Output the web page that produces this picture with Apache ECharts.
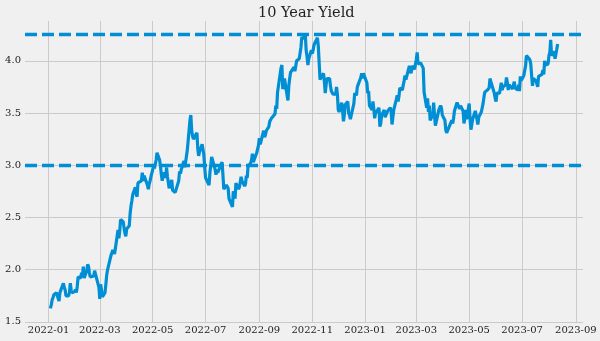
<!DOCTYPE html>
<html>
<head>
<meta charset="utf-8">
<script src="https://cdn.jsdelivr.net/npm/echarts@6/dist/echarts.min.js"></script>
<style>
  html, body { margin: 0; padding: 0; background: #f0f0f0; }
  #chart { width: 600px; height: 341px; }
</style>
</head>
<body>
<div id="chart"></div>
<script>
// Daily 10-year Treasury yield (%), trading days only.
const dates = [
  '2022-01-03','2022-01-04','2022-01-05','2022-01-06','2022-01-07','2022-01-10','2022-01-11','2022-01-12','2022-01-13','2022-01-14',
  '2022-01-18','2022-01-19','2022-01-20','2022-01-21','2022-01-24','2022-01-25','2022-01-26','2022-01-27','2022-01-28','2022-01-31',
  '2022-02-01','2022-02-02','2022-02-03','2022-02-04','2022-02-07','2022-02-08','2022-02-09','2022-02-10','2022-02-11','2022-02-14',
  '2022-02-15','2022-02-16','2022-02-17','2022-02-18','2022-02-22','2022-02-23','2022-02-24','2022-02-25','2022-02-28',
  '2022-03-01','2022-03-02','2022-03-03','2022-03-04','2022-03-07','2022-03-08','2022-03-09','2022-03-10','2022-03-11','2022-03-14',
  '2022-03-15','2022-03-16','2022-03-17','2022-03-18','2022-03-21','2022-03-22','2022-03-23','2022-03-24','2022-03-25','2022-03-28',
  '2022-03-29','2022-03-30','2022-03-31',
  '2022-04-01','2022-04-04','2022-04-05','2022-04-06','2022-04-07','2022-04-08','2022-04-11','2022-04-12','2022-04-13','2022-04-14',
  '2022-04-18','2022-04-19','2022-04-20','2022-04-21','2022-04-22','2022-04-25','2022-04-26','2022-04-27','2022-04-28','2022-04-29',
  '2022-05-02','2022-05-03','2022-05-04','2022-05-05','2022-05-06','2022-05-09','2022-05-10','2022-05-11','2022-05-12','2022-05-13',
  '2022-05-16','2022-05-17','2022-05-18','2022-05-19','2022-05-20','2022-05-23','2022-05-24','2022-05-25','2022-05-26','2022-05-27',
  '2022-05-31',
  '2022-06-01','2022-06-02','2022-06-03','2022-06-06','2022-06-07','2022-06-08','2022-06-09','2022-06-10','2022-06-13','2022-06-14',
  '2022-06-15','2022-06-16','2022-06-17','2022-06-21','2022-06-22','2022-06-23','2022-06-24','2022-06-27','2022-06-28','2022-06-29',
  '2022-06-30',
  '2022-07-01','2022-07-05','2022-07-06','2022-07-07','2022-07-08','2022-07-11','2022-07-12','2022-07-13','2022-07-14','2022-07-15',
  '2022-07-18','2022-07-19','2022-07-20','2022-07-21','2022-07-22','2022-07-25','2022-07-26','2022-07-27','2022-07-28','2022-07-29',
  '2022-08-01','2022-08-02','2022-08-03','2022-08-04','2022-08-05','2022-08-08','2022-08-09','2022-08-10','2022-08-11','2022-08-12',
  '2022-08-15','2022-08-16','2022-08-17','2022-08-18','2022-08-19','2022-08-22','2022-08-23','2022-08-24','2022-08-25','2022-08-26',
  '2022-08-29','2022-08-30','2022-08-31',
  '2022-09-01','2022-09-02','2022-09-06','2022-09-07','2022-09-08','2022-09-09','2022-09-12','2022-09-13','2022-09-14','2022-09-15',
  '2022-09-16','2022-09-19','2022-09-20','2022-09-21','2022-09-22','2022-09-23','2022-09-26','2022-09-27','2022-09-28','2022-09-29',
  '2022-09-30',
  '2022-10-03','2022-10-04','2022-10-05','2022-10-06','2022-10-07','2022-10-11','2022-10-12','2022-10-13','2022-10-14','2022-10-17',
  '2022-10-18','2022-10-19','2022-10-20','2022-10-21','2022-10-24','2022-10-25','2022-10-26','2022-10-27','2022-10-28','2022-10-31',
  '2022-11-01','2022-11-02','2022-11-03','2022-11-04','2022-11-07','2022-11-08','2022-11-09','2022-11-10','2022-11-14','2022-11-15',
  '2022-11-16','2022-11-17','2022-11-18','2022-11-21','2022-11-22','2022-11-23','2022-11-25','2022-11-28','2022-11-29','2022-11-30',
  '2022-12-01','2022-12-02','2022-12-05','2022-12-06','2022-12-07','2022-12-08','2022-12-09','2022-12-12','2022-12-13','2022-12-14',
  '2022-12-15','2022-12-16','2022-12-19','2022-12-20','2022-12-21','2022-12-22','2022-12-23','2022-12-27','2022-12-28','2022-12-29',
  '2022-12-30',
  '2023-01-03','2023-01-04','2023-01-05','2023-01-06','2023-01-09','2023-01-10','2023-01-11','2023-01-12','2023-01-13','2023-01-17',
  '2023-01-18','2023-01-19','2023-01-20','2023-01-23','2023-01-24','2023-01-25','2023-01-26','2023-01-27','2023-01-30','2023-01-31',
  '2023-02-01','2023-02-02','2023-02-03','2023-02-06','2023-02-07','2023-02-08','2023-02-09','2023-02-10','2023-02-13','2023-02-14',
  '2023-02-15','2023-02-16','2023-02-17','2023-02-21','2023-02-22','2023-02-23','2023-02-24','2023-02-27','2023-02-28',
  '2023-03-01','2023-03-02','2023-03-03','2023-03-06','2023-03-07','2023-03-08','2023-03-09','2023-03-10','2023-03-13','2023-03-14',
  '2023-03-15','2023-03-16','2023-03-17','2023-03-20','2023-03-21','2023-03-22','2023-03-23','2023-03-24','2023-03-27','2023-03-28',
  '2023-03-29','2023-03-30','2023-03-31',
  '2023-04-03','2023-04-04','2023-04-05','2023-04-06','2023-04-10','2023-04-11','2023-04-12','2023-04-13','2023-04-14','2023-04-17',
  '2023-04-18','2023-04-19','2023-04-20','2023-04-21','2023-04-24','2023-04-25','2023-04-26','2023-04-27','2023-04-28',
  '2023-05-01','2023-05-02','2023-05-03','2023-05-04','2023-05-05','2023-05-08','2023-05-09','2023-05-10','2023-05-11','2023-05-12',
  '2023-05-15','2023-05-16','2023-05-17','2023-05-18','2023-05-19','2023-05-22','2023-05-23','2023-05-24','2023-05-25','2023-05-26',
  '2023-05-30','2023-05-31',
  '2023-06-01','2023-06-02','2023-06-05','2023-06-06','2023-06-07','2023-06-08','2023-06-09','2023-06-12','2023-06-13','2023-06-14',
  '2023-06-15','2023-06-16','2023-06-20','2023-06-21','2023-06-22','2023-06-23','2023-06-26','2023-06-27','2023-06-28','2023-06-29',
  '2023-06-30',
  '2023-07-03','2023-07-05','2023-07-06','2023-07-07','2023-07-10','2023-07-11','2023-07-12','2023-07-13','2023-07-14','2023-07-17',
  '2023-07-18','2023-07-19','2023-07-20','2023-07-21','2023-07-24','2023-07-25','2023-07-26','2023-07-27','2023-07-28','2023-07-31',
  '2023-08-01','2023-08-02','2023-08-03','2023-08-04','2023-08-07','2023-08-08','2023-08-09','2023-08-10','2023-08-11'
];

const yields = [
  1.63,1.66,1.71,1.73,1.76,1.78,1.75,1.74,1.70,1.78, 1.87,1.83,1.81,1.75,1.75,1.78,1.87,1.80,1.78,1.79,
  1.81,1.78,1.84,1.93,1.92,1.97,1.94,2.03,1.92,1.99, 2.05,2.03,1.97,1.93,1.94,1.99,1.96,1.97,1.83,
  1.72,1.86,1.87,1.74,1.78,1.86,1.95,2.00,2.00,2.14, 2.16,2.19,2.20,2.15,2.32,2.38,2.30,2.37,2.48,2.46, 2.40,2.35,2.32,
  2.39,2.42,2.54,2.61,2.66,2.72,2.79,2.72,2.70,2.83, 2.85,2.93,2.85,2.90,2.90,2.81,2.77,2.82,2.85,2.89,
  2.99,2.97,2.97,3.05,3.12,3.05,2.99,2.91,2.85,2.93, 2.88,2.98,2.89,2.84,2.78,2.86,2.76,2.75,2.75,2.74, 2.85,
  2.94,2.92,2.96,3.04,2.98,3.03,3.04,3.15,3.43,3.48, 3.33,3.28,3.25,3.31,3.16,3.09,3.13,3.20,3.20,3.10, 2.98,
  2.88,2.81,2.93,3.00,3.08,2.99,2.96,2.91,2.96,2.93, 2.99,3.01,3.03,2.91,2.77,2.81,2.81,2.78,2.68,2.67,
  2.60,2.75,2.73,2.68,2.83,2.77,2.79,2.78,2.89,2.85, 2.80,2.82,2.90,2.88,2.99,3.02,3.05,3.11,3.03,3.04, 3.12,3.11,3.19,
  3.26,3.20,3.33,3.27,3.29,3.33,3.37,3.42,3.41,3.45, 3.45,3.49,3.57,3.54,3.70,3.69,3.93,3.96,3.73,3.76, 3.83,
  3.67,3.62,3.76,3.83,3.89,3.94,3.90,3.95,4.00,4.02, 4.01,4.13,4.23,4.21,4.25,4.10,4.04,3.96,4.02,4.10,
  4.07,4.10,4.15,4.17,4.22,4.14,4.14,3.82,3.88,3.80, 3.69,3.77,3.83,3.83,3.76,3.71,3.68,3.68,3.75,3.68,
  3.53,3.51,3.60,3.53,3.42,3.48,3.58,3.61,3.50,3.48, 3.44,3.48,3.59,3.69,3.68,3.67,3.75,3.84,3.88,3.83, 3.88,
  3.79,3.69,3.71,3.57,3.53,3.61,3.54,3.45,3.50,3.55, 3.37,3.40,3.48,3.53,3.46,3.46,3.50,3.52,3.55,3.52,
  3.39,3.40,3.53,3.63,3.67,3.61,3.66,3.74,3.72,3.77, 3.81,3.86,3.82,3.95,3.92,3.88,3.95,3.92,3.92,
  4.01,4.08,3.97,3.98,3.97,3.98,3.93,3.70,3.55,3.64, 3.51,3.57,3.43,3.48,3.60,3.48,3.38,3.38,3.53,3.55, 3.57,3.55,3.48,
  3.43,3.34,3.31,3.30,3.41,3.43,3.40,3.45,3.52,3.60, 3.59,3.60,3.54,3.57,3.52,3.40,3.45,3.53,3.44,
  3.59,3.44,3.34,3.39,3.44,3.52,3.52,3.44,3.39,3.46, 3.51,3.55,3.59,3.65,3.70,3.72,3.72,3.74,3.83,3.80, 3.69,3.64,
  3.61,3.69,3.69,3.70,3.79,3.72,3.75,3.77,3.84,3.79, 3.72,3.77,3.73,3.72,3.80,3.74,3.72,3.77,3.71,3.85, 3.81,
  3.86,3.95,4.05,4.06,4.01,3.97,3.86,3.76,3.83,3.81, 3.80,3.75,3.85,3.84,3.87,3.91,3.87,4.00,3.96,3.97,
  4.05,4.08,4.20,4.05,4.09,4.02,4.01,4.11,4.16
];

// Horizontal reference levels (%).
const referenceLevels = [4.25, 3.0];

// Axis tick labels.
const xTickLabels = ['2022-01','2022-03','2022-05','2022-07','2022-09','2022-11',
                     '2023-01','2023-03','2023-05','2023-07','2023-09'];
const yTickLabels = [1.5, 2.0, 2.5, 3.0, 3.5, 4.0];

function toTime(s) {
  const p = s.split('-').map(Number);
  return new Date(p[0], p[1] - 1, p[2] || 1).getTime();
}

const points = dates.map((d, i) => [toTime(d), yields[i]]);
const xTicks = xTickLabels.map(toTime);

// 5% padding on each side of the data extent
const tMin = points[0][0], tMax = points[points.length - 1][0];
const tPad = (tMax - tMin) * 0.05;
const vMin = Math.min(...yields), vMax = Math.max(...yields);
const vPad = (vMax - vMin) * 0.05;

const serif = 'DejaVu Serif';
const chart = echarts.init(document.getElementById('chart'), null, { renderer: 'canvas' });

chart.setOption({
  backgroundColor: '#f0f0f0',
  animation: false,
  title: {
    text: '10 Year Yield',
    left: 253,
    top: 1,
    textStyle: { fontFamily: serif, fontSize: 14.5, fontWeight: 'normal', color: '#222' }
  },
  grid: { left: 25, right: 17, top: 21, bottom: 19, containLabel: false },
  xAxis: {
    // timestamps on a linear axis, ticks at the start of every other month
    type: 'value',
    min: tMin - tPad,
    max: tMax + tPad,
    axisLine: { show: false },
    axisTick: { show: false, customValues: xTicks },
    splitLine: { show: true, lineStyle: { color: '#cbcbcb', width: 1 } },
    axisLabel: {
      customValues: xTicks,
      margin: 3,
      fontFamily: serif,
      fontSize: 10,
      color: '#222',
      hideOverlap: false,
      formatter: function (v) {
        const d = new Date(v);
        return d.getFullYear() + '-' + String(d.getMonth() + 1).padStart(2, '0');
      }
    }
  },
  yAxis: {
    type: 'value',
    min: vMin - vPad,
    max: vMax + vPad,
    axisLine: { show: false },
    axisTick: { show: false, customValues: yTickLabels },
    splitLine: { show: true, lineStyle: { color: '#cbcbcb', width: 1 } },
    axisLabel: {
      customValues: yTickLabels,
      margin: 4,
      fontFamily: serif,
      fontSize: 10,
      color: '#222',
      formatter: v => v.toFixed(1)
    }
  },
  series: [{
    type: 'line',
    data: points,
    showSymbol: false,
    lineStyle: { color: '#008fd5', width: 3.2 },
    itemStyle: { color: '#008fd5' },
    markLine: {
      silent: true,
      symbol: ['none', 'none'],
      label: { show: false },
      lineStyle: { color: '#008fd5', width: 3.3, type: [12, 5] },
      data: referenceLevels.map(v => ({ yAxis: v }))
    }
  }]
});
</script>
</body>
</html>
